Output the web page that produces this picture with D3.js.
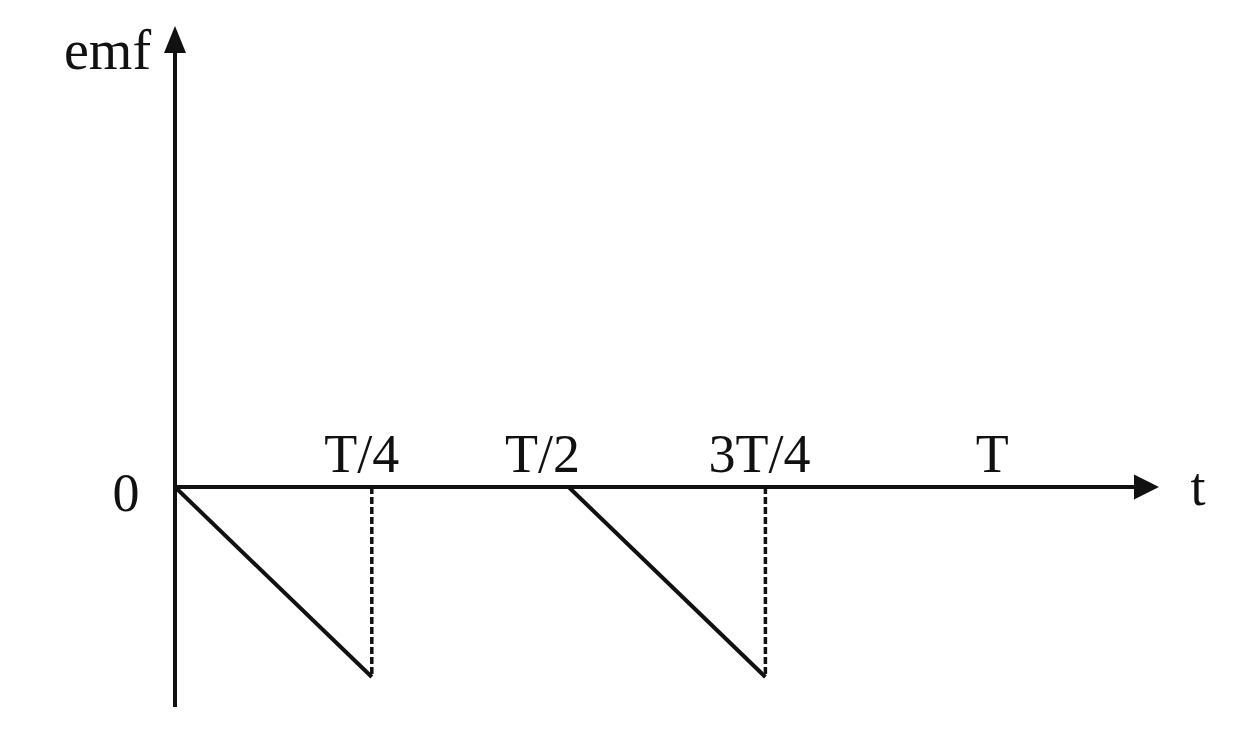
<!DOCTYPE html>
<html>
<head>
<meta charset="utf-8">
<script src="https://cdn.jsdelivr.net/npm/d3@7"></script>
<style>
  html, body { margin: 0; padding: 0; background: #fff; }
  svg { display: block; }
  text { font-family: "Liberation Serif", "DejaVu Serif", serif; fill: #111; }
</style>
</head>
<body>
<svg id="chart" width="1236" height="736"></svg>
<script>
// ---- data (t in units of the period T, emf in units of its peak magnitude) ----
const segmentStarts = [0, 0.5];        // t where each ramp begins (emf = 0)
const segmentEnds = [0.25, 0.75];      // t where each ramp ends
const segmentEndValues = [-1, -1];     // emf at the end of each ramp
const dashedAt = [0.25, 0.75];         // dashed drop-back lines
const tickValues = [0.25, 0.5, 0.75, 1];
const tickLabels = ["T/4", "T/2", "3T/4", "T"];
const xAxisLabel = "t";
const yAxisLabel = "emf";
const originLabel = "0";

// ---- layout ----
const svg = d3.select("#chart");
const x = d3.scaleLinear().domain([0, 1.25]).range([175, 1159]);
const y = d3.scaleLinear().domain([-1, 0]).range([677, 487]);
const yBottom = 707, yTop = 26;
const tickLabelShift = [-10, -26, -6, 30];   // label nudges (px) as placed in the figure
const stroke = "#111";
const sw = 4;

// axes
svg.append("line")
  .attr("x1", x(0)).attr("x2", x(0))
  .attr("y1", yBottom).attr("y2", yTop + 24)
  .attr("stroke", stroke).attr("stroke-width", sw);
svg.append("path")
  .attr("d", `M${x(0)},${yTop} L${x(0) - 11},${yTop + 27} L${x(0) + 11},${yTop + 27} Z`)
  .attr("fill", stroke);

svg.append("line")
  .attr("x1", x(0) - sw / 2).attr("x2", x.range()[1] - 22)
  .attr("y1", y(0)).attr("y2", y(0))
  .attr("stroke", stroke).attr("stroke-width", sw);
const xe = x.range()[1];
svg.append("path")
  .attr("d", `M${xe},${y(0)} L${xe - 25},${y(0) - 12.5} L${xe - 25},${y(0) + 12.5} Z`)
  .attr("fill", stroke);

// sawtooth ramps
const line = d3.line().x(d => x(d[0])).y(d => y(d[1]));
segmentStarts.forEach((s, i) => {
  svg.append("path")
    .attr("d", line([[s, 0], [segmentEnds[i], segmentEndValues[i]]]))
    .attr("fill", "none")
    .attr("stroke", stroke).attr("stroke-width", sw)
    .attr("stroke-linecap", "butt");
});

// dashed verticals
dashedAt.forEach((t, i) => {
  svg.append("line")
    .attr("x1", x(t)).attr("x2", x(t))
    .attr("y1", y(0)).attr("y2", y(segmentEndValues[i]))
    .attr("stroke", stroke).attr("stroke-width", 3.5)
    .attr("stroke-dasharray", "7,3");
});

// tick labels (above the axis)
svg.selectAll("text.tick")
  .data(tickValues)
  .join("text")
  .attr("class", "tick")
  .attr("x", (d, i) => x(d) + tickLabelShift[i])
  .attr("y", 472)
  .attr("text-anchor", "middle")
  .attr("font-size", 54)
  .text((d, i) => tickLabels[i]);

// origin, axis labels
svg.append("text")
  .attr("x", 126).attr("y", 511)
  .attr("text-anchor", "middle").attr("font-size", 54)
  .text(originLabel);
svg.append("text")
  .attr("x", 1198).attr("y", 505)
  .attr("text-anchor", "middle").attr("font-size", 54)
  .text(xAxisLabel);
svg.append("text")
  .attr("x", 64).attr("y", 69)
  .attr("text-anchor", "start").attr("font-size", 56)
  .text(yAxisLabel);
</script>
</body>
</html>
